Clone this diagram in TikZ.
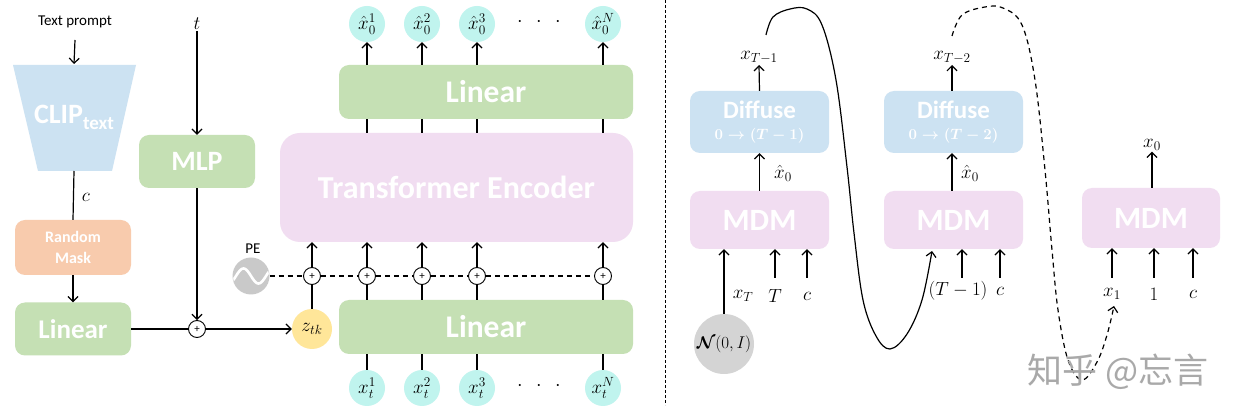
\RequirePackage{fix-cm}
\documentclass[tikz,border=0pt]{standalone}
\usepackage{amsmath}
\usepackage{fontspec}
\setmainfont{Carlito}
\newfontfamily\cjkfont{Noto Sans CJK SC}
\usetikzlibrary{arrows.meta}
\newcommand\fsz[1]{\fontsize{#1}{#1}\selectfont}
\definecolor{cgreen}{HTML}{C5E0B4}
\definecolor{cpink}{HTML}{F1DDF1}
\definecolor{cblue}{HTML}{CCE2F2}
\definecolor{corange}{HTML}{F8CBAD}
\definecolor{cyellow}{HTML}{FFE699}
\definecolor{ccyan}{HTML}{C0F4EE}
\definecolor{cgray}{HTML}{C9C9C9}
\definecolor{cgrayN}{HTML}{D4D4D4}
\definecolor{wmgray}{HTML}{A9A9A9}
\tikzset{
  box/.style={rectangle, rounded corners=10pt, inner sep=0pt, text=white},
  ln/.style={line width=1.2pt},
  arr/.style={line width=1.2pt, -{Straight Barb[length=5pt,width=10pt]}},
  plusnode/.style={circle, draw, line width=0.9pt, fill=white, minimum size=17pt, inner sep=0pt, font=\fsz{11}},
  tok/.style={circle, fill=ccyan, minimum size=36pt, inner sep=0pt, font=\fsz{19}},
  lab/.style={inner sep=1pt, font=\fsz{19}},
  dsh/.style={dash pattern=on 5pt off 4pt}
}
\begin{document}
\begin{tikzpicture}[x=1pt,y=-1pt]
\useasboundingbox[fill=white] (0,0) rectangle (1248,419);
% ---------- left part ----------
\node[font=\fsz{15}, inner sep=1pt] (tp) at (75,22) {Text prompt};
\fill[cblue] (13,65) -- (136,65) -- (112,171) -- (38,171) -- cycle;
\coordinate (cliptop) at (74,64);
\coordinate (clipbot) at (74,171);
\node[text=white, font=\bfseries\fsz{28}] (clip) at (74,117) {CLIP\raisebox{-6pt}{\fsz{19}text}};
\draw[arr] (tp.south |- 0,40) -- (cliptop);
\node[box, fill=corange, minimum width=116pt, minimum height=55pt, align=center, font=\bfseries\fsz{16}] (rm) at (73,247.5) {Random\\[5pt]Mask};
\draw[ln] (clipbot) -- (rm.north);
\node[lab] (clab) at (86,197) {$c$};
\node[box, fill=cgreen, minimum width=116pt, minimum height=53pt, font=\bfseries\fsz{27}] (lin1) at (73,329) {Linear};
\draw[arr] (rm.south) -- (lin1.north);
\node[lab, font=\fsz{19}] (t) at (197,24) {$t$};
\node[box, fill=cgreen, minimum width=116pt, minimum height=53pt, font=\bfseries\fsz{28}] (mlp) at (197,161.5) {MLP};
\draw[arr] (t.south) -- (mlp.north);
\node[plusnode] (p0) at (197,329) {+};
\draw[arr] (mlp.south) -- (p0.north);
\draw[ln] (lin1.east) -- (p0.west);
\node[circle, fill=cyellow, minimum size=40pt, inner sep=0pt, font=\fsz{19}] (z) at (312,329) {$z_{tk}$};
\draw[arr] (p0.east) -- (z.west);
% PE
\node[circle, fill=cgray, minimum size=37pt, inner sep=0pt] (pe) at (251,276) {};
\begin{scope}
\clip (251,276) circle (18pt);
\draw[white, line width=2.6pt] plot[domain=-19:19, samples=40] ({251+\x},{276+7.5*sin(12*\x)});
\end{scope}
\node[font=\fsz{15}, inner sep=0pt] (pel) at (253,249) {PE};
% ---------- transformer ----------
\node[box, fill=cgreen, minimum width=294pt, minimum height=54pt, font=\bfseries\fsz{31.5}] (lt) at (486,92) {Linear};
\node[box, rounded corners=20pt, fill=cpink, minimum width=353pt, minimum height=109pt, font=\bfseries\fsz{32}] (te) at (456.5,187.5) {Transformer Encoder};
\node[box, fill=cgreen, minimum width=294pt, minimum height=54pt, font=\bfseries\fsz{31.5}] (lb) at (486,327) {Linear};
\node[plusnode] (p1) at (312,276) {+};
\node[plusnode] (p2) at (367,276) {+};
\node[plusnode] (p3) at (422,276) {+};
\node[plusnode] (p4) at (477,276) {+};
\node[plusnode] (p5) at (603,276) {+};
\draw[ln, dsh] (pe.east) -- (p1.west);
\draw[ln, dsh] (p1.east) -- (p2.west);
\draw[ln, dsh] (p2.east) -- (p3.west);
\draw[ln, dsh] (p3.east) -- (p4.west);
\draw[ln, dsh] (p4.east) -- (p5.west);
\draw[ln] (z.north) -- (p1.south);
\foreach \p in {p1,p2,p3,p4,p5} { \draw[arr] (\p.north) -- (\p.north |- te.south); }
\foreach \p in {p2,p3,p4,p5} { \draw[ln] (\p.south |- lb.north) -- (\p.south); }
\node[tok] (o1) at (367,24) {$\hat{x}_0^1$};
\node[tok] (o2) at (422,24) {$\hat{x}_0^2$};
\node[tok] (o3) at (477,24) {$\hat{x}_0^3$};
\node[tok] (o4) at (603,24) {$\hat{x}_0^N$};
\node[tok] (i1) at (367,388) {$x_t^1$};
\node[tok] (i2) at (422,388) {$x_t^2$};
\node[tok] (i3) at (477,388) {$x_t^3$};
\node[tok] (i4) at (603,388) {$x_t^N$};
\foreach \o in {o1,o2,o3,o4} {
  \draw[ln] (\o.south |- te.north) -- (\o.south |- lt.south);
  \draw[arr] (\o.south |- lt.north) -- (\o.south);
}
\foreach \i in {i1,i2,i3,i4} { \draw[ln] (\i.north) -- (\i.north |- lb.south); }
\node[font=\fsz{20}] (d1) at (539,22) {$\cdot\hspace{9pt}\cdot\hspace{9pt}\cdot$};
\node[font=\fsz{20}] (d2) at (539,386) {$\cdot\hspace{9pt}\cdot\hspace{9pt}\cdot$};
% ---------- divider ----------
\coordinate (dv1) at (665,0);
\coordinate (dv2) at (665,405);
\draw[line width=0.8pt, dash pattern=on 3pt off 2pt] (dv1) -- (dv2);
% ---------- sampling ----------
\node[box, fill=cblue, minimum width=139pt, minimum height=62pt, align=center] (dif1) at (759.5,122) {{\bfseries\fsz{25}Diffuse}\\[9pt]{\fsz{15}\boldmath$0\rightarrow(T-1)$}};
\node[box, fill=cpink, minimum width=139pt, minimum height=58pt, font=\bfseries\fsz{31}] (mdm1) at (759.5,220) {MDM};
\node[box, fill=cblue, minimum width=139pt, minimum height=62pt, align=center] (dif2) at (953.5,122) {{\bfseries\fsz{25}Diffuse}\\[9pt]{\fsz{15}\boldmath$0\rightarrow(T-2)$}};
\node[box, fill=cpink, minimum width=139pt, minimum height=58pt, font=\bfseries\fsz{31}] (mdm2) at (953.5,220) {MDM};
\node[box, fill=cpink, minimum width=138pt, minimum height=60pt, font=\bfseries\fsz{31}] (mdm3) at (1151,218) {MDM};
% block 1
\node[lab, anchor=south] (xT1) at (759,65) {$x_{T-1}$};
\draw[arr] (dif1.north) -- (xT1.south);
\draw[arr] (mdm1.north) -- (dif1.south);
\node[lab] (xh1) at (783,173) {$\hat{x}_0$};
\node[circle, fill=cgrayN, minimum size=60pt, inner sep=0pt, font=\fsz{17}] (nz) at (724,344) {$\boldsymbol{\mathcal{N}}(0,I)$};
\draw[arr] (nz.north) -- (nz.north |- mdm1.south);
\node[lab] (lxT) at (743,296) {$x_T$};
\node[lab] (lT) at (775,296) {$T$};
\node[lab] (lc1) at (807,296) {$c$};
\draw[arr] (lT.north |- 0,278) -- (lT.north |- mdm1.south);
\draw[arr] (lc1.north |- 0,278) -- (lc1.north |- mdm1.south);
% block 2
\node[lab, anchor=south] (xT2) at (952,65) {$x_{T-2}$};
\draw[arr] (dif2.north -| xT2.south) -- (xT2.south);
\draw[arr] (mdm2.north -| xT2.south) -- (dif2.south -| xT2.south);
\node[lab] (xh2) at (970,173) {$\hat{x}_0$};
\node[lab] (lT1) at (958,291) {$(T-1)$};
\node[lab] (lc2) at (1000,291) {$c$};
\coordinate (a2) at (962,278);
\draw[arr] (a2) -- (a2 |- mdm2.south);
\draw[arr] (lc2.north |- 0,278) -- (lc2.north |- mdm2.south);
% block 3
\node[lab] (x0) at (1152,145) {$x_0$};
\draw[arr] (mdm3.north -| x0.south) -- (x0.south);
\node[lab] (lx1) at (1112,294) {$x_1$};
\node[lab] (l1) at (1154,294) {$1$};
\node[lab] (lc3) at (1193,294) {$c$};
\draw[arr] (lx1.north |- 0,278) -- (lx1.north |- mdm3.south);
\draw[arr] (l1.north |- 0,278) -- (l1.north |- mdm3.south);
\draw[arr] (lc3.north |- 0,278) -- (lc3.north |- mdm3.south);
% curves
\coordinate (s1) at (766,35);
\coordinate (e1) at (932,251);
\draw[arr] plot[smooth, tension=0.6] coordinates {(s1) (773,17) (790,9) (807,9) (822,25) (836,80) (847,167) (854,233) (863,300) (876,336) (890,349) (907,334) (922,300) (e1)};
\coordinate (s2) at (952,36);
\coordinate (e2) at (1114,306);
\draw[arr, dsh] plot[smooth, tension=0.6] coordinates {(s2) (962,15) (985,7) (1003,8) (1022,25) (1035,80) (1045,170) (1052,250) (1058,310) (1068,360) (1082,380) (1097,362) (1107,335) (e2)};
% watermark
\node[text=wmgray, font=\cjkfont\fsz{35}] (wm) at (1118,372) {知乎 @忘言};
\end{tikzpicture}
\end{document}
